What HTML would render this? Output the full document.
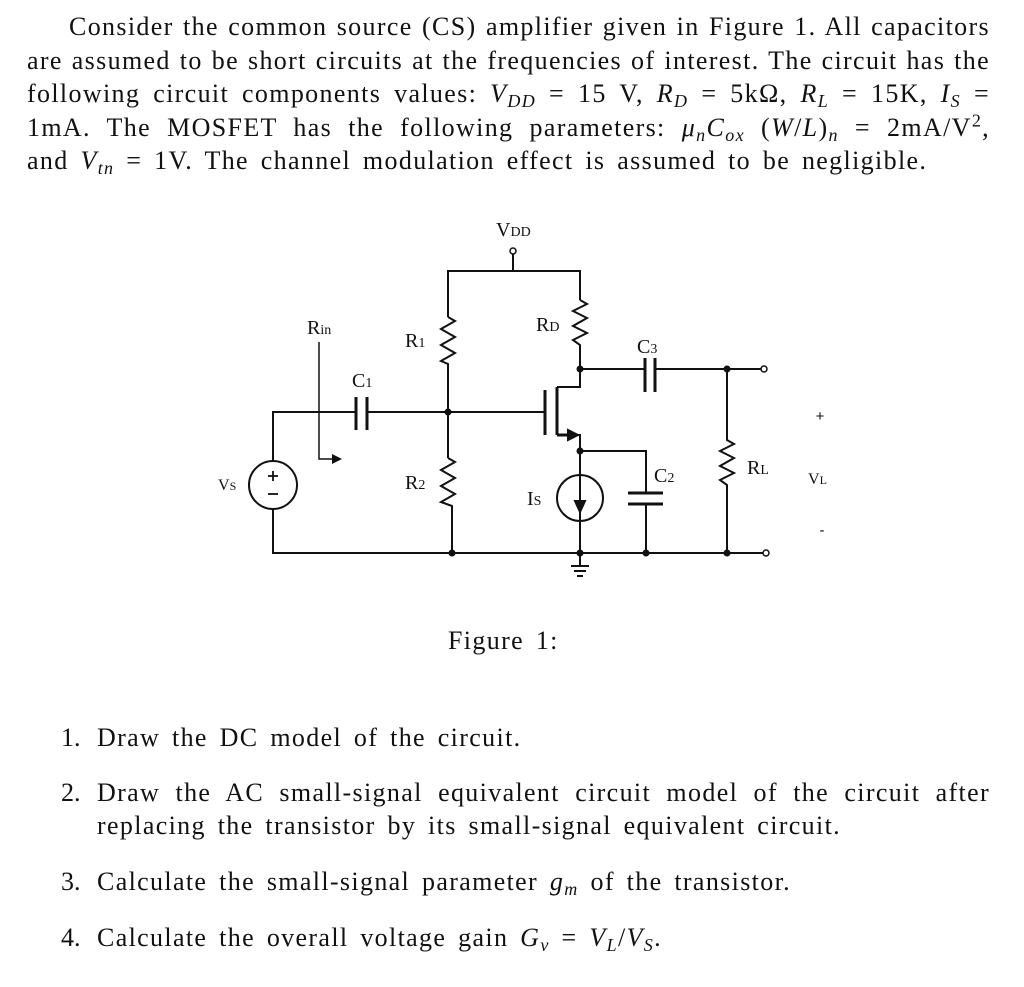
<!DOCTYPE html>
<html><head><meta charset="utf-8"><style>
body{margin:0;width:1024px;height:987px;background:#fff;overflow:hidden;position:relative;font-family:"Liberation Serif",serif;color:#111}
.l{position:absolute;font-size:26px;white-space:nowrap;line-height:30px;letter-spacing:1.35px;word-spacing:4px}
.j{text-align:justify;text-align-last:justify;white-space:normal;word-spacing:0}
i{font-style:italic}
sub{font-size:18px;vertical-align:-5px;line-height:0}
sup{font-size:18px;line-height:0}
svg{position:absolute;left:0;top:0}
.n{position:absolute;font-size:26px;line-height:30px}
</style></head><body>
<div class="l j" style="left:69px;top:12px;width:921px">Consider the common source (CS) amplifier given in Figure 1. All capacitors</div>
<div class="l j" style="left:27px;top:46px;width:963px">are assumed to be short circuits at the frequencies of interest. The circuit has the</div>
<div class="l j" style="left:27px;top:79px;width:963px">following circuit components values: <i>V<sub>DD</sub></i> = 15 V, <i>R<sub>D</sub></i> = 5kΩ, <i>R<sub>L</sub></i> = 15K, <i>I<sub>S</sub></i> =</div>
<div class="l j" style="left:27px;top:113px;width:963px">1mA. The MOSFET has the following parameters: <i>μ<sub>n</sub>C<sub>ox</sub></i>&nbsp;(<i>W</i>/<i>L</i>)<sub><i>n</i></sub> = 2mA/V<sup>2</sup>,</div>
<div class="l" style="left:27px;top:146px">and <i>V<sub>tn</sub></i> = 1V. The channel modulation effect is assumed to be negligible.</div>

<svg width="1024" height="987" viewBox="0 0 1024 987" fill="none" stroke="#111" stroke-width="2">
<circle cx="513" cy="251" r="3" stroke-width="1.5"/>
<line x1="513" y1="254" x2="513" y2="271"/>
<polyline points="448,317 448,271 580,271 580,300"/>
<polyline points="448,317 455,321 441,329 455,337 441,345 455,353 441,361 448,364 448,458"/>
<polyline points="448,458 455,462 441,470 455,478 441,486 455,494 441,502 452,506 452,553"/>
<polyline points="580,300 587,304 573,311 587,318 573,326 587,333 573,340 580,345 580,387 557,387"/>
<line x1="545" y1="390" x2="545" y2="435" stroke-width="3"/>
<line x1="557" y1="387" x2="557" y2="435" stroke-width="3"/>
<line x1="557" y1="435" x2="572" y2="435" stroke-width="3"/>
<polyline points="572,435 580,435 580,522"/>
<polygon points="578,435 568,430 568,440" fill="#111"/>
<polyline points="273,461 273,412 356,412"/>
<line x1="367" y1="412" x2="545" y2="412"/>
<line x1="356" y1="397" x2="356" y2="430" stroke-width="3"/>
<line x1="367" y1="397" x2="367" y2="430" stroke-width="3"/>
<polyline points="319,342 319,459 334,459" stroke-width="1.5"/>
<polygon points="342,459 332,454 332,464" fill="#111" stroke="none"/>
<circle cx="273" cy="485" r="24"/>
<polyline points="273,509 273,553 766,553"/>
<circle cx="580" cy="498" r="23"/>
<line x1="580" y1="485" x2="580" y2="505"/>
<polygon points="580,512 575,501 585,501" fill="#111"/>
<line x1="580" y1="521" x2="580" y2="566"/>
<line x1="571" y1="566" x2="589" y2="566"/>
<line x1="574" y1="571" x2="586" y2="571"/>
<line x1="577" y1="576" x2="583" y2="576"/>
<polyline points="580,451 646,451 646,493"/>
<line x1="628" y1="493" x2="663" y2="493" stroke-width="3"/>
<line x1="628" y1="504" x2="663" y2="504" stroke-width="3"/>
<line x1="646" y1="504" x2="646" y2="553"/>
<line x1="580" y1="369" x2="645" y2="369"/>
<line x1="645" y1="358" x2="645" y2="392" stroke-width="3"/>
<line x1="655" y1="358" x2="655" y2="392" stroke-width="3"/>
<line x1="655" y1="369" x2="761" y2="369"/>
<circle cx="764" cy="369" r="3" stroke-width="1.5"/>
<circle cx="766" cy="553" r="3" stroke-width="1.5" fill="#fff"/>
<polyline points="727,369 727,440 734,444 720,451 734,458 720,466 734,473 720,480 727,485 727,553"/>
<g fill="#111" stroke="none">
<circle cx="448" cy="412" r="3.5"/><circle cx="452" cy="553" r="3.5"/>
<circle cx="580" cy="369" r="3.5"/><circle cx="580" cy="451" r="3.5"/>
<circle cx="580" cy="553" r="3.5"/><circle cx="646" cy="553" r="3.5"/>
<circle cx="727" cy="369" r="3.5"/><circle cx="727" cy="553" r="3.5"/>
</g>
<line x1="268" y1="476" x2="278" y2="476" stroke-width="1.8"/>
<line x1="273" y1="471" x2="273" y2="481" stroke-width="1.8"/>
<line x1="268" y1="494" x2="278" y2="494" stroke-width="1.8"/>
<g fill="#111" stroke="none" font-family="Liberation Sans, sans-serif">
<text x="820" y="421" font-size="15" text-anchor="middle">+</text>
<text x="822" y="535" font-size="15" text-anchor="middle">-</text>
</g>
<g fill="#111" stroke="none" font-family="Liberation Serif, serif" font-size="20">
<text x="496" y="236">V<tspan font-size="14">DD</tspan></text>
<text x="307" y="334">R<tspan font-size="14">in</tspan></text>
<text x="405" y="347">R<tspan font-size="14">1</tspan></text>
<text x="536" y="331">R<tspan font-size="14">D</tspan></text>
<text x="637" y="353">C<tspan font-size="14">3</tspan></text>
<text x="352" y="387">C<tspan font-size="14">1</tspan></text>
<text x="405" y="489">R<tspan font-size="14">2</tspan></text>
<text x="527" y="505">I<tspan font-size="14">S</tspan></text>
<text x="654" y="482">C<tspan font-size="14">2</tspan></text>
<text x="747" y="474">R<tspan font-size="14">L</tspan></text>
<text x="808" y="484" font-size="16">V<tspan font-size="12">L</tspan></text>
<text x="218" y="490" font-size="16">V<tspan font-size="12">S</tspan></text>
</g>
</svg>

<div class="l" style="left:448px;top:626px">Figure 1:</div>
<div class="n" style="left:61px;top:723px">1.</div><div class="l" style="left:97px;top:723px">Draw the DC model of the circuit.</div>
<div class="n" style="left:61px;top:778px">2.</div><div class="l j" style="left:97px;top:778px;width:893px">Draw the AC small-signal equivalent circuit model of the circuit after</div>
<div class="l" style="left:97px;top:811px">replacing the transistor by its small-signal equivalent circuit.</div>
<div class="n" style="left:61px;top:867px">3.</div><div class="l" style="left:97px;top:867px">Calculate the small-signal parameter <i>g<sub>m</sub></i> of the transistor.</div>
<div class="n" style="left:61px;top:923px">4.</div><div class="l" style="left:97px;top:923px">Calculate the overall voltage gain <i>G<sub>v</sub></i> = <i>V<sub>L</sub></i>/<i>V<sub>S</sub></i>.</div>
</body></html>
